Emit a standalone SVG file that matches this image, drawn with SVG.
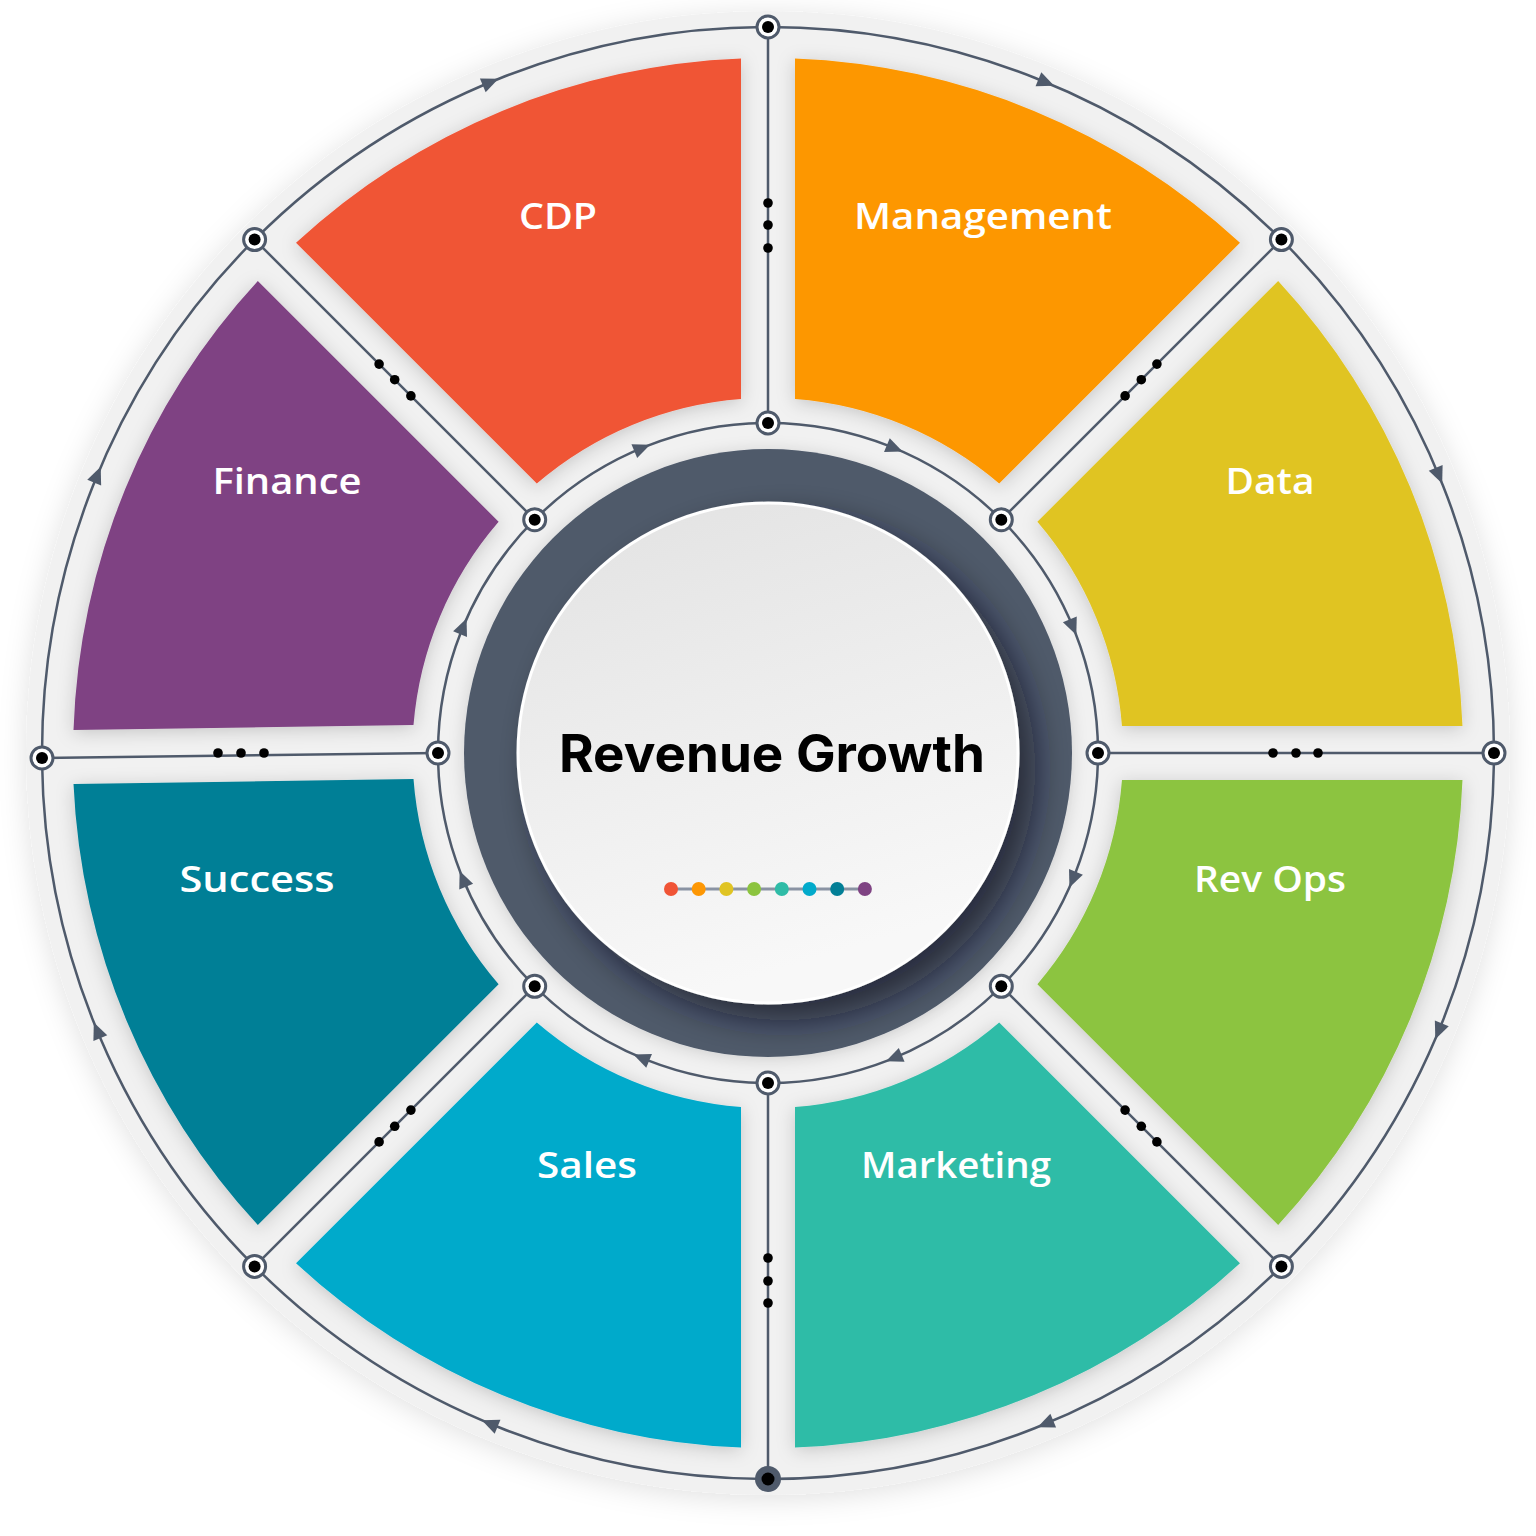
<svg xmlns="http://www.w3.org/2000/svg" xmlns:xlink="http://www.w3.org/1999/xlink" width="1536" height="1536" viewBox="0 0 1536 1536">
<defs>
<style>
.seg{filter:url(#segShadow);}
.lbl{font-family:"Open Sans","Noto Sans",sans-serif;font-weight:600;font-size:36px;fill:#ffffff;text-anchor:middle;}
.title{font-family:"Inter","Open Sans",sans-serif;font-weight:700;font-size:52px;fill:#000000;text-anchor:middle;}
.ring{fill:none;stroke:#4F5A6B;stroke-width:2.5;}
.sep{stroke:#4F5A6B;stroke-width:2.5;fill:none;}
.arr{fill:#4F5A6B;}
.nodeo{fill:#ffffff;stroke:#4F5A6B;stroke-width:3;}
.dotc{fill:#000000;}
</style>
<filter id="segShadow" x="-20%" y="-20%" width="140%" height="140%">
<feDropShadow dx="0" dy="3" stdDeviation="9" flood-color="#000000" flood-opacity="0.18"/>
</filter>
<filter id="bgShadow" x="-10%" y="-10%" width="120%" height="120%">
<feDropShadow dx="0" dy="4" stdDeviation="14" flood-color="#000000" flood-opacity="0.12"/>
</filter>
<filter id="hubShadow" x="-30%" y="-30%" width="160%" height="160%">
<feDropShadow dx="16" dy="16" stdDeviation="16" flood-color="#111827" flood-opacity="0.65"/>
</filter>
<filter id="ringShadow" x="-20%" y="-20%" width="140%" height="140%">
<feDropShadow dx="0" dy="2" stdDeviation="8" flood-color="#000000" flood-opacity="0.15"/>
</filter>
<linearGradient id="hubGrad" x1="0" y1="0" x2="0.3" y2="1">
<stop offset="0" stop-color="#e2e2e2"/>
<stop offset="1" stop-color="#f8f8f8"/>
</linearGradient>
<polygon id="arrow" points="-8,-7.5 9,0 -8,7.5"/>
<g id="dot3"><circle cx="0" cy="0" r="4.8"/></g>
</defs>

<rect width="1536" height="1536" fill="#ffffff"/>
<circle cx="768" cy="753" r="742" fill="#f1f1f1" filter="url(#bgShadow)"/>

<g id="segments">
<g id="node-management">
<path class="seg" fill="#FD9704" d="M795,399.03 L795,58.52 A695,695 0 0 1 1239.98,242.84 L999.2,483.62 A355,355 0 0 0 795,399.03 Z"/>
<text class="lbl" x="983" y="229" textLength="258" lengthAdjust="spacingAndGlyphs">Management</text>
</g>
<g id="node-data">
<path class="seg" fill="#E0C423" d="M1037.38,521.8 L1278.16,281.02 A695,695 0 0 1 1462.48,726 L1121.97,726 A355,355 0 0 0 1037.38,521.8 Z"/>
<text class="lbl" x="1270" y="494" textLength="89" lengthAdjust="spacingAndGlyphs">Data</text>
</g>
<g id="node-revops">
<path class="seg" fill="#8CC43F" d="M1121.97,780 L1462.48,780 A695,695 0 0 1 1278.16,1224.98 L1037.38,984.2 A355,355 0 0 0 1121.97,780 Z"/>
<text class="lbl" x="1270" y="892" textLength="152" lengthAdjust="spacingAndGlyphs">Rev Ops</text>
</g>
<g id="node-marketing">
<path class="seg" fill="#2FBCA7" d="M999.2,1022.38 L1239.98,1263.16 A695,695 0 0 1 795,1447.48 L795,1106.97 A355,355 0 0 0 999.2,1022.38 Z"/>
<text class="lbl" x="956" y="1178" textLength="190" lengthAdjust="spacingAndGlyphs">Marketing</text>
</g>
<g id="node-sales">
<path class="seg" fill="#02AACB" d="M741,1106.97 L741,1447.48 A695,695 0 0 1 296.02,1263.16 L536.8,1022.38 A355,355 0 0 0 741,1106.97 Z"/>
<text class="lbl" x="587" y="1178" textLength="100" lengthAdjust="spacingAndGlyphs">Sales</text>
</g>
<g id="node-success">
<path class="seg" fill="#027F96" d="M498.62,984.2 L257.84,1224.98 A695,695 0 0 1 73.5,784 L413.5,779 A355,355 0 0 0 498.62,984.2 Z"/>
<text class="lbl" x="257" y="892" textLength="155" lengthAdjust="spacingAndGlyphs">Success</text>
</g>
<g id="node-finance">
<path class="seg" fill="#7F4383" d="M413.5,725 L73.5,730 A695,695 0 0 1 257.84,281.02 L498.62,521.8 A355,355 0 0 0 413.5,725 Z"/>
<text class="lbl" x="287" y="494" textLength="149" lengthAdjust="spacingAndGlyphs">Finance</text>
</g>
<g id="node-cdp">
<path class="seg" fill="#F05436" d="M536.8,483.62 L296.02,242.84 A695,695 0 0 1 741,58.52 L741,399.03 A355,355 0 0 0 536.8,483.62 Z"/>
<text class="lbl" x="558" y="229" textLength="78" lengthAdjust="spacingAndGlyphs">CDP</text>
</g>
</g>

<g id="connectors">
<circle class="ring" cx="768" cy="753" r="726"/>
<circle class="ring" cx="768" cy="753" r="330"/>
<line class="sep" x1="768" y1="423" x2="768" y2="27"/>
<line class="sep" x1="1001.3" y1="519.7" x2="1281.4" y2="239.6"/>
<line class="sep" x1="1098" y1="753" x2="1494" y2="753"/>
<line class="sep" x1="1001.3" y1="986.3" x2="1281.4" y2="1266.4"/>
<line class="sep" x1="768" y1="1083" x2="768" y2="1479"/>
<line class="sep" x1="534.7" y1="986.3" x2="254.6" y2="1266.4"/>
<line class="sep" x1="438" y1="753" x2="42" y2="758"/>
<line class="sep" x1="534.7" y1="519.7" x2="254.6" y2="239.6"/>
<g class="arr">
<use xlink:href="#arrow" transform="rotate(-112.5 768 753) translate(1494 753) rotate(90)"/>
<use xlink:href="#arrow" transform="rotate(-67.5 768 753) translate(1494 753) rotate(90)"/>
<use xlink:href="#arrow" transform="rotate(-22.5 768 753) translate(1494 753) rotate(90)"/>
<use xlink:href="#arrow" transform="rotate(22.5 768 753) translate(1494 753) rotate(90)"/>
<use xlink:href="#arrow" transform="rotate(67.5 768 753) translate(1494 753) rotate(90)"/>
<use xlink:href="#arrow" transform="rotate(112.5 768 753) translate(1494 753) rotate(90)"/>
<use xlink:href="#arrow" transform="rotate(157.5 768 753) translate(1494 753) rotate(90)"/>
<use xlink:href="#arrow" transform="rotate(202.5 768 753) translate(1494 753) rotate(90)"/>
<use xlink:href="#arrow" transform="rotate(-112.5 768 753) translate(1098 753) rotate(90)"/>
<use xlink:href="#arrow" transform="rotate(-67.5 768 753) translate(1098 753) rotate(90)"/>
<use xlink:href="#arrow" transform="rotate(-22.5 768 753) translate(1098 753) rotate(90)"/>
<use xlink:href="#arrow" transform="rotate(22.5 768 753) translate(1098 753) rotate(90)"/>
<use xlink:href="#arrow" transform="rotate(67.5 768 753) translate(1098 753) rotate(90)"/>
<use xlink:href="#arrow" transform="rotate(112.5 768 753) translate(1098 753) rotate(90)"/>
<use xlink:href="#arrow" transform="rotate(157.5 768 753) translate(1098 753) rotate(90)"/>
<use xlink:href="#arrow" transform="rotate(202.5 768 753) translate(1098 753) rotate(90)"/>
</g>
<g class="dotc">
<use xlink:href="#dot3" x="768" y="248"/><use xlink:href="#dot3" x="768" y="225"/><use xlink:href="#dot3" x="768" y="203"/>
<use xlink:href="#dot3" x="1125.1" y="395.9"/><use xlink:href="#dot3" x="1141.3" y="379.7"/><use xlink:href="#dot3" x="1156.9" y="364.1"/>
<use xlink:href="#dot3" x="1273" y="753"/><use xlink:href="#dot3" x="1296" y="753"/><use xlink:href="#dot3" x="1318" y="753"/>
<use xlink:href="#dot3" x="1125.1" y="1110.1"/><use xlink:href="#dot3" x="1141.3" y="1126.3"/><use xlink:href="#dot3" x="1156.9" y="1141.9"/>
<use xlink:href="#dot3" x="768" y="1258"/><use xlink:href="#dot3" x="768" y="1281"/><use xlink:href="#dot3" x="768" y="1303"/>
<use xlink:href="#dot3" x="410.9" y="1110.1"/><use xlink:href="#dot3" x="394.7" y="1126.3"/><use xlink:href="#dot3" x="379.1" y="1141.9"/>
<use xlink:href="#dot3" x="218" y="753"/><use xlink:href="#dot3" x="241" y="753"/><use xlink:href="#dot3" x="264" y="753"/>
<use xlink:href="#dot3" x="410.9" y="395.9"/><use xlink:href="#dot3" x="394.7" y="379.7"/><use xlink:href="#dot3" x="379.1" y="364.1"/>
</g>
</g>

<g id="junctions">
<g id="j-outer-n"><circle class="nodeo" cx="768" cy="27" r="11"/><circle class="dotc" cx="768" cy="27" r="6"/></g>
<g id="j-outer-ne"><circle class="nodeo" cx="1281.4" cy="239.6" r="11"/><circle class="dotc" cx="1281.4" cy="239.6" r="6"/></g>
<g id="j-outer-e"><circle class="nodeo" cx="1494" cy="753" r="11"/><circle class="dotc" cx="1494" cy="753" r="6"/></g>
<g id="j-outer-se"><circle class="nodeo" cx="1281.4" cy="1266.4" r="11"/><circle class="dotc" cx="1281.4" cy="1266.4" r="6"/></g>
<g id="j-outer-s"><circle cx="768" cy="1479" r="13" fill="#4F5A6B"/><circle class="dotc" cx="768" cy="1479" r="6.5"/></g>
<g id="j-outer-sw"><circle class="nodeo" cx="254.6" cy="1266.4" r="11"/><circle class="dotc" cx="254.6" cy="1266.4" r="6"/></g>
<g id="j-outer-w"><circle class="nodeo" cx="42" cy="758" r="11"/><circle class="dotc" cx="42" cy="758" r="6"/></g>
<g id="j-outer-nw"><circle class="nodeo" cx="254.6" cy="239.6" r="11"/><circle class="dotc" cx="254.6" cy="239.6" r="6"/></g>
<g id="j-inner-n"><circle class="nodeo" cx="768" cy="423" r="11"/><circle class="dotc" cx="768" cy="423" r="6"/></g>
<g id="j-inner-ne"><circle class="nodeo" cx="1001.3" cy="519.7" r="11"/><circle class="dotc" cx="1001.3" cy="519.7" r="6"/></g>
<g id="j-inner-e"><circle class="nodeo" cx="1098" cy="753" r="11"/><circle class="dotc" cx="1098" cy="753" r="6"/></g>
<g id="j-inner-se"><circle class="nodeo" cx="1001.3" cy="986.3" r="11"/><circle class="dotc" cx="1001.3" cy="986.3" r="6"/></g>
<g id="j-inner-s"><circle class="nodeo" cx="768" cy="1083" r="11"/><circle class="dotc" cx="768" cy="1083" r="6"/></g>
<g id="j-inner-sw"><circle class="nodeo" cx="534.7" cy="986.3" r="11"/><circle class="dotc" cx="534.7" cy="986.3" r="6"/></g>
<g id="j-inner-w"><circle class="nodeo" cx="438" cy="753" r="11"/><circle class="dotc" cx="438" cy="753" r="6"/></g>
<g id="j-inner-nw"><circle class="nodeo" cx="534.7" cy="519.7" r="11"/><circle class="dotc" cx="534.7" cy="519.7" r="6"/></g>
</g>

<g id="node-hub">
<circle cx="768" cy="753" r="304" fill="#4F5A6B" filter="url(#ringShadow)"/>
<circle cx="768" cy="753" r="250" fill="url(#hubGrad)" stroke="#ffffff" stroke-width="3" filter="url(#hubShadow)"/>
<text class="title" x="772" y="772" textLength="426" lengthAdjust="spacingAndGlyphs">Revenue Growth</text>
<line x1="671" y1="889" x2="865" y2="889" stroke="#8A93A3" stroke-width="3"/>
<circle cx="671" cy="889" r="7" fill="#F05436"/>
<circle cx="698.7" cy="889" r="7" fill="#FD9704"/>
<circle cx="726.4" cy="889" r="7" fill="#E0C423"/>
<circle cx="754.1" cy="889" r="7" fill="#8CC43F"/>
<circle cx="781.8" cy="889" r="7" fill="#2FBCA7"/>
<circle cx="809.5" cy="889" r="7" fill="#02AACB"/>
<circle cx="837.2" cy="889" r="7" fill="#027F96"/>
<circle cx="864.9" cy="889" r="7" fill="#7F4383"/>
</g>
</svg>
